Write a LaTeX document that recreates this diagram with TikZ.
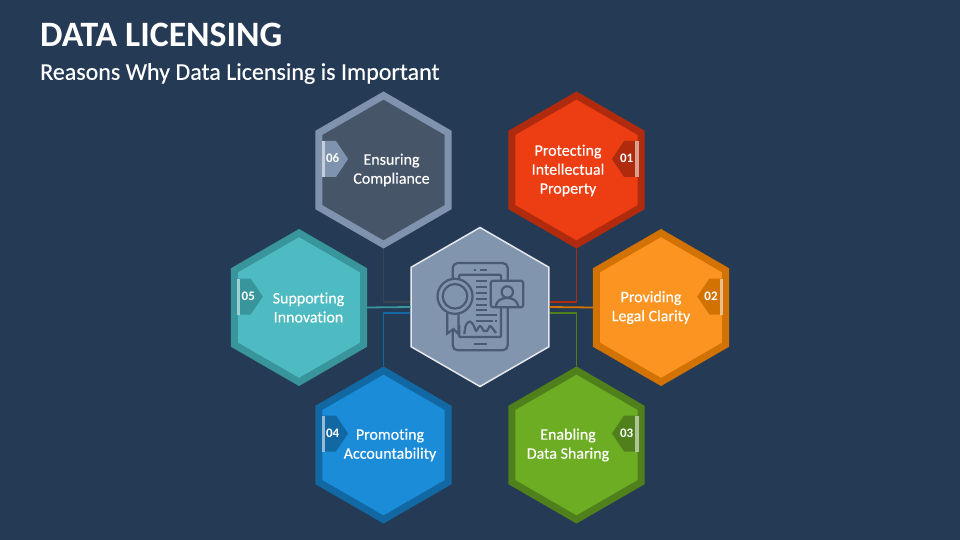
\documentclass[tikz,border=0pt]{standalone}
\usepackage{fontspec}
\setmainfont{Carlito}[Ligatures=NoCommon]
\usetikzlibrary{shapes.geometric, shapes.symbols}

\definecolor{bgblue}{HTML}{253A54}
\definecolor{redfill}{HTML}{EC3D13}
\definecolor{redline}{HTML}{B02B0E}
\definecolor{orangefill}{HTML}{FC9422}
\definecolor{orangeline}{HTML}{D27203}
\definecolor{greenfill}{HTML}{6CAD24}
\definecolor{greenline}{HTML}{4F801C}
\definecolor{bluefill}{HTML}{1A8CD8}
\definecolor{blueline}{HTML}{1268A3}
\definecolor{tealfill}{HTML}{4DBBC1}
\definecolor{tealline}{HTML}{37959B}
\definecolor{slatefill}{HTML}{475569}
\definecolor{slateline}{HTML}{7F93AE}
\definecolor{hubfill}{HTML}{8295AE}
\definecolor{hubline}{HTML}{E4E7EB}
\definecolor{iconline}{HTML}{4A5C74}

\begin{document}
\begin{tikzpicture}[x=1pt,y=-1pt]

    % Define styles
    \tikzstyle{cell} = [regular polygon, regular polygon sides=6, shape border rotate=30, draw, line width=7pt, minimum size=149pt, inner sep=0pt]
    \tikzstyle{hubcell} = [regular polygon, regular polygon sides=6, shape border rotate=30, draw=hubline, fill=hubfill, line width=1.5pt, minimum size=159pt, inner sep=0pt]
    \tikzstyle{celltext} = [text=white, align=center, inner sep=0pt, font=\fontsize{16}{19}\selectfont\addfontfeature{FakeBold=0.3}]
    \tikzstyle{numtag} = [signal, signal pointer angle=112, minimum width=26pt, minimum height=36pt, inner sep=0pt]
    \tikzstyle{numtext} = [text=white, inner sep=0pt, font=\fontsize{13}{14}\selectfont\bfseries]
    \tikzstyle{strip} = [rectangle, fill=white, fill opacity=0.55, minimum width=3.5pt, minimum height=36pt, inner sep=0pt]
    \tikzstyle{link} = [line width=1.8pt]
    \tikzstyle{icon} = [draw=iconline, line width=2.2pt]

    % Background
    \fill[bgblue] (0,0) rectangle (960,540);

    % Heading
    \node[anchor=west, text=white, inner sep=0pt, font=\fontsize{35.7}{40}\selectfont\bfseries] (title) at (40,34.5) {DATA LICENSING};
    \node[anchor=west, text=white, inner sep=0pt, font=\fontsize{24}{28}\selectfont\addfontfeature{FakeBold=0.3}] (subtitle) at (40,73.5) {Reasons Why Data Licensing is Important};

    % Hexagons
    \node[cell, draw=redline, fill=redfill] (hexa) at (576.5,170) {};
    \node[cell, draw=orangeline, fill=orangefill] (hexb) at (661,307.5) {};
    \node[cell, draw=greenline, fill=greenfill] (hexc) at (576.5,445) {};
    \node[cell, draw=blueline, fill=bluefill] (hexd) at (383.5,445) {};
    \node[cell, draw=tealline, fill=tealfill] (hexe) at (299,307.5) {};
    \node[cell, draw=slateline, fill=slatefill] (hexf) at (383.5,170) {};
    \node[hubcell] (hub) at (480,307) {};

    % Hexagon texts
    \node[celltext] (texta) at (568,170.5) {Protecting\\Intellectual\\Property};
    \node[celltext] (textb) at (651,307.5) {Providing\\Legal Clarity};
    \node[celltext] (textc) at (568,445) {Enabling\\Data Sharing};
    \node[celltext] (textd) at (390,445) {Promoting\\Accountability};
    \node[celltext] (texte) at (308.5,307.5) {Supporting\\Innovation};
    \node[celltext] (textf) at (391.5,170) {Ensuring\\Compliance};

    % Number tags
    \node[numtag, signal to=west, fill=redline] (taga) at (631,159) {};
    \node[numtag, signal to=west, fill=orangeline] (tagb) at (716.3,296.5) {};
    \node[numtag, signal to=west, fill=greenline] (tagc) at (631,433.5) {};
    \node[numtag, signal to=east, fill=blueline] (tagd) at (329,433.5) {};
    \node[numtag, signal to=east, fill=tealline] (tage) at (243.7,296.5) {};
    \node[numtag, signal to=east, fill=slateline] (tagf) at (329,159) {};

    \node[strip] (stripa) at (637,159) {};
    \node[strip] (stripb) at (721.7,296.5) {};
    \node[strip] (stripc) at (637,433.5) {};
    \node[strip] (stripd) at (323.5,433.5) {};
    \node[strip] (stripe) at (238.5,296.5) {};
    \node[strip] (stripf) at (323.5,159) {};

    \node[numtext] (numa) at (626.7,158.3) {01};
    \node[numtext] (numb) at (711,296) {02};
    \node[numtext] (numc) at (626.7,433.3) {03};
    \node[numtext] (numd) at (332.7,433.3) {04};
    \node[numtext] (nume) at (248.3,296) {05};
    \node[numtext] (numf) at (332.7,158.3) {06};

    % Connectors
    \draw[link, redline] (hexa.south) |- ([yshift=5pt]hub.east);
    \draw[link, orangeline] (hub.east) -- (hexb.west);
    \draw[link, greenline] (hexc.north) |- ([yshift=-6pt]hub.east);
    \draw[link, blueline] (hexd.north) |- ([yshift=-6pt]hub.west);
    \draw[link, tealline] (hub.west) -- (hexe.east);
    \draw[link, slatefill!80!black] (hexf.south) |- ([yshift=5pt]hub.west);

    % Icon: phone
    \draw[icon, rounded corners=5pt] (452.7,263) rectangle (507.7,350.3);
    \draw[icon] (473.5,269.7) -- (476,269.7) (479.5,269.7) -- (486.7,269.7);
    \draw[icon] (473.5,344) -- (486.7,344);
    \draw[icon, rounded corners=1pt] (459.3,290) |- (501,274.7) -- (501,337) -| (459.3,325);

    % Icon: text lines
    \foreach \y in {281.3,287.3,293,298.7,304.7,310.3}
        \draw[icon] (476,\y) -- (486.7,\y);
    \draw[icon] (476,315.3) -- (497,315.3);
    \draw[icon] (476,320.7) -- (493,320.7) (495,320.7) -- (497,320.7);
    \draw[icon, line join=round] plot[smooth, tension=0.6] coordinates {(464.3,334) (466,325) (470,321.5) (474,326) (476,331) (480,326) (484,331) (487,331) (490,326) (493,329) (496,333)};

    % Icon: seal
    \draw[icon, fill=hubfill] (447.3,308) -- (447.3,333.5) -- (453.5,329) -- (458.5,334) -- (458.5,308);
    \draw[icon, fill=hubfill] (455,296.3) circle (17.5);
    \draw[icon] (455,296.3) circle (12.3);

    % Icon: portrait card
    \draw[icon, fill=hubfill, rounded corners=2.5pt] (490.7,280.7) rectangle (523.3,307.3);
    \draw[icon] (507.3,292) circle (5.7);
    \draw[icon] (495.7,306) .. controls (497,300) and (502,298) .. (507,298) .. controls (512,298) and (517,300) .. (518.3,306);

\end{tikzpicture}
\end{document}
